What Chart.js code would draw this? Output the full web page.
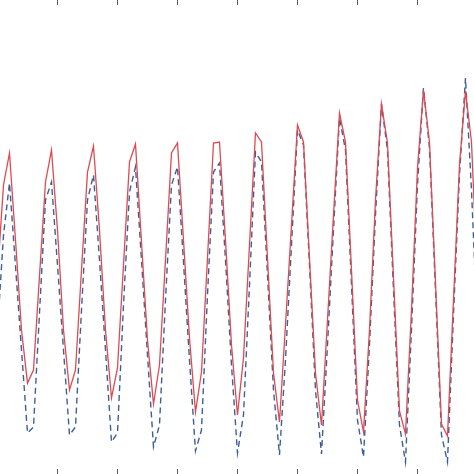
<!DOCTYPE html>
<html>
<head>
    <title>Two oscillating signals</title>
    <script src="https://cdn.jsdelivr.net/npm/chart.js"></script>
    <style>
        body {
            margin: 0;
            background-color: #ffffff;
        }
        canvas {
            display: block;
        }
    </style>
</head>
<body>
    <canvas id="signalChart" width="474" height="474"></canvas>

    <script>
        // sample index (x axis), one reading every step
        var samples = [-2, -1, 0, 1, 2, 3, 4, 5, 6, 7, 8, 9, 10, 11, 12, 13, 14, 15, 16, 17, 18, 19,
            20, 21, 22, 23, 24, 25, 26, 27, 28, 29, 30, 31, 32, 33, 34, 35, 36, 37, 38, 39,
            40, 41, 42, 43, 44, 45, 46, 47, 48, 49, 50, 51, 52, 53, 54, 55, 56, 57, 58, 59,
            60, 61, 62, 63, 64, 65, 66, 67, 68, 69, 70, 71, 72, 73, 74, 75, 76, 77, 78, 79, 80];

        // red solid line
        var redValues = [96, 106, 199, 289, 321, 234, 144, 91, 104, 198, 292, 324, 244, 144, 84, 104, 204, 302, 328, 244, 144, 76,
            106, 209, 312, 330, 232, 134, 70, 109, 214, 321, 331, 234, 136, 62, 102, 216, 331, 332, 234, 129,
            59, 116, 229, 341, 332, 216, 101, 52, 149, 249, 349, 332, 216, 101, 49, 154, 259, 361, 332, 204,
            74, 42, 144, 274, 370, 331, 197, 63, 40, 164, 306, 384, 332, 192, 50, 38, 174, 309, 383, 332, 194];

        // blue dashed line
        var blueValues = [42, 49, 144, 239, 291, 208, 124, 41, 47, 161, 274, 292, 209, 124, 39, 47, 164, 274, 299, 214, 124, 32,
            41, 169, 282, 307, 214, 119, 27, 49, 174, 289, 307, 212, 114, 23, 44, 179, 302, 311, 214, 109,
            21, 59, 189, 322, 312, 199, 84, 19, 114, 229, 344, 329, 209, 84, 20, 129, 244, 356, 324, 189,
            54, 17, 129, 259, 370, 324, 184, 49, 12, 144, 289, 386, 326, 184, 39, 12, 159, 299, 396, 284, 144];

        // tick positions on the x axis (no labels shown in the crop)
        var xTicks = [10, 20, 30, 40, 50, 60, 70];

        function toPoints(values) {
            return values.map(function(v, i) { return { x: samples[i], y: v }; });
        }

        // inward tick marks at top and bottom, like a boxed axes
        var tickMarkPlugin = {
            id: 'tickMarkPlugin',
            afterDraw: function(chart) {
                var ctx = chart.ctx;
                var area = chart.chartArea;
                var xScale = chart.scales.x;
                ctx.save();
                ctx.strokeStyle = '#5a5a5a';
                ctx.lineWidth = 1;
                xTicks.forEach(function(t) {
                    var px = Math.round(xScale.getPixelForValue(t)) + 0.5;
                    ctx.beginPath();
                    ctx.moveTo(px, area.top);
                    ctx.lineTo(px, area.top + 5);
                    ctx.moveTo(px, area.bottom - 5);
                    ctx.lineTo(px, area.bottom);
                    ctx.stroke();
                });
                ctx.restore();
            }
        };

        var ctx = document.getElementById('signalChart').getContext('2d');
        var signalChart = new Chart(ctx, {
            type: 'line',
            plugins: [tickMarkPlugin],
            data: {
                datasets: [
                    {
                        label: 'Signal A',
                        data: toPoints(redValues),
                        borderColor: '#de4a50',
                        borderWidth: 1.3,
                        pointRadius: 0,
                        tension: 0,
                        fill: false
                    },
                    {
                        label: 'Signal B',
                        data: toPoints(blueValues),
                        borderColor: '#3c5f97',
                        borderWidth: 1.4,
                        borderDash: [6, 4],
                        pointRadius: 0,
                        tension: 0,
                        fill: false
                    }
                ]
            },
            options: {
                responsive: false,
                animation: false,
                layout: { padding: 0 },
                plugins: {
                    legend: { display: false },
                    tooltip: { enabled: false }
                },
                scales: {
                    x: {
                        type: 'linear',
                        display: false,
                        min: 0.417,
                        max: 79.42
                    },
                    y: {
                        display: false,
                        min: 0,
                        max: 474
                    }
                }
            }
        });
    </script>
</body>
</html>
